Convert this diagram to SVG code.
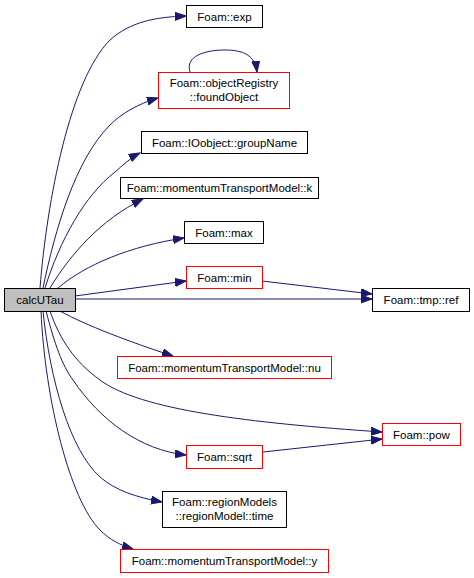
<svg xmlns="http://www.w3.org/2000/svg" width="474" height="578" viewBox="0 0 474 578">
<style>
.n rect{fill:#ffffff;stroke:#000000;stroke-width:1}
.n.r rect{stroke:#ff0000}
.n.g rect{fill:#bfbfbf}
.n text{font-family:"Liberation Sans",Arial,sans-serif;font-size:11.5px;fill:#000000;text-anchor:middle}
.e path{fill:none;stroke:#191970;stroke-width:1;marker-end:url(#ah)}
</style>
<defs>
<marker id="ah" markerUnits="userSpaceOnUse" markerWidth="12" markerHeight="9" refX="11" refY="4" orient="auto">
<path d="M0,0 L11,4 L0,8 z" fill="#191970" stroke="#191970" stroke-width="1"/>
</marker>
</defs>
<rect width="474" height="578" fill="#ffffff"/>
<g id="edges" class="e">
<path d="M40,288 C47,200 70,80 110,40 C130,22 155,17 186,16"/>
<path d="M190,72 C185,56 205,50 225,50 C243,50 255,55 257,72"/>
<path d="M43,288 C55,230 75,160 110,125 C122,113 138,104 158,98"/>
<path d="M45,288 C60,240 85,195 115,172 C122,166 130,158 140,153"/>
<path d="M50,288 C70,255 100,220 143,199"/>
<path d="M58,288 C85,265 130,246 184,238"/>
<path d="M75,296 L186,281"/>
<path d="M75,299 L372,299"/>
<path d="M262,281 L372,294"/>
<path d="M60,311 C85,325 130,342 173,356"/>
<path d="M50,311 C60,340 75,362 100,380 C140,410 250,423 382,432"/>
<path d="M263,452 L382,439"/>
<path d="M46,311 C55,345 62,365 73,380 C100,420 140,450 186,455"/>
<path d="M43,311 C50,380 70,450 100,477 C115,490 135,497 162,502"/>
<path d="M41,311 C45,400 70,500 100,530 C110,540 120,545 133,549"/>
</g>
<g id="calcUTau" class="n g"><rect x="4.5" y="288.5" width="71" height="23"/><text x="40" y="304">calcUTau</text></g>
<g id="exp" class="n"><rect x="186.5" y="5.5" width="76" height="22"/><text x="224.5" y="20.5">Foam::exp</text></g>
<g id="foundObject" class="n r"><rect x="158.5" y="72.5" width="131" height="36"/><text x="224" y="86.5">Foam::objectRegistry</text><text x="224" y="100.5">::foundObject</text></g>
<g id="groupName" class="n"><rect x="141.5" y="131.5" width="166" height="22"/><text x="224.5" y="146.5">Foam::IOobject::groupName</text></g>
<g id="k" class="n"><rect x="120.5" y="177.5" width="198" height="21"/><text x="219.5" y="192">Foam::momentumTransportModel::k</text></g>
<g id="max" class="n"><rect x="184.5" y="221.5" width="79" height="22"/><text x="224" y="236.5">Foam::max</text></g>
<g id="min" class="n r"><rect x="186.5" y="266.5" width="76" height="22"/><text x="224.5" y="281.5">Foam::min</text></g>
<g id="ref" class="n"><rect x="372.5" y="288.5" width="97" height="23"/><text x="421" y="304">Foam::tmp::ref</text></g>
<g id="nu" class="n r"><rect x="117.5" y="356.5" width="214" height="22"/><text x="224.5" y="371.5">Foam::momentumTransportModel::nu</text></g>
<g id="pow" class="n r"><rect x="382.5" y="423.5" width="78" height="22"/><text x="421.5" y="438.5">Foam::pow</text></g>
<g id="sqrt" class="n r"><rect x="186.5" y="445.5" width="76" height="23"/><text x="224.5" y="461">Foam::sqrt</text></g>
<g id="time" class="n"><rect x="162.5" y="491.5" width="124" height="36"/><text x="224.5" y="505.5">Foam::regionModels</text><text x="224.5" y="519.5">::regionModel::time</text></g>
<g id="y" class="n r"><rect x="120.5" y="549.5" width="208" height="23"/><text x="224.5" y="565">Foam::momentumTransportModel::y</text></g>
</svg>
